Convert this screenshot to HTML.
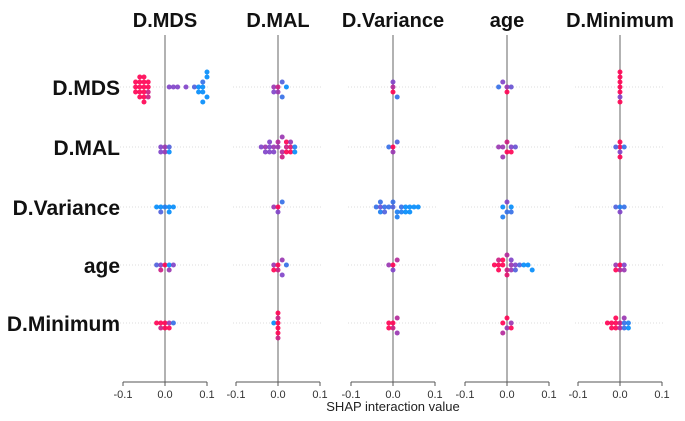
<!DOCTYPE html>
<html><head><meta charset="utf-8"><style>
body{margin:0;background:#fff;width:685px;height:416px;overflow:hidden}
svg{font-family:"Liberation Sans",sans-serif}
</style></head><body>
<svg id="chart" width="685" height="416"></svg>
<script>
const features = ["D.MDS","D.MAL","D.Variance","age","D.Minimum"];
const tickLabels = ["-0.1","0.0","0.1"];
const tickValues = [-0.1,0,0.1];
const shapValues = [
 [[-0.07,-0.07,-0.06,-0.06,-0.06,-0.05,-0.05,-0.05,-0.05,-0.04,-0.04,-0.04,-0.06,-0.05,-0.07,-0.04,-0.05,-0.06,0.01,0.02,0.03,0.05,0.07,0.08,0.08,0.09,0.09,0.09,0.1,0.1,0.09,0.1],
  [-0.01,0,0,0.01,-0.01,0.01,0.02],
  [0,0,0,0.01],
  [-0.02,0,0,0.01,-0.01],
  [0,0,0,0,0,0,0]],
 [[-0.01,0,0,0.01,-0.01,0.01],
  [-0.04,-0.03,-0.02,-0.02,-0.01,0,0.01,0.02,0.02,0.03,0.04,-0.03,-0.02,0,0.01,0.02,0.03,0.04,-0.01,0.01,0.03],
  [-0.01,0,0,0.01],
  [-0.02,-0.01,0,0,0.01,0.02,-0.01,0.01],
  [0,0,0,0,-0.01,0.01]],
 [[-0.02,-0.01,0,0.01,0.02,-0.01,0.01],
  [-0.01,0,0,0.01],
  [-0.04,-0.03,-0.02,-0.01,0,0.01,0.02,0.03,0.04,0.05,0.06,-0.03,-0.02,0,0.02,0.03,-0.03,0.01,0.04],
  [-0.01,0,0,0.01,-0.01,0.01],
  [-0.01,0,0,0.01]],
 [[-0.02,-0.01,0,0.01,0.02,-0.01,0.01],
  [-0.01,0,0,0.01,0.02,-0.01,0.01],
  [-0.01,0,0,0.01],
  [-0.03,-0.02,-0.01,0,0.01,0.02,0.03,0.04,0.05,0.06,-0.02,-0.01,0,0.01,0.02,-0.02,0,0.01],
  [-0.01,0,0,0.01,-0.01,0.01]],
 [[-0.02,-0.01,0,0.01,0.02,0,-0.01,0.01],
  [-0.01,0,0,0,0,0,0],
  [-0.01,0,0,0.01,-0.01,0.01],
  [-0.01,0,0,0.01,-0.01,0.01],
  [-0.03,-0.02,-0.01,0,0.01,0.02,-0.02,-0.01,0,0.01,0.02,-0.01,0.01]]
];
const colorValues = [
 [[1,1,1,1,1,1,1,1,1,1,0.8,1,1,1,1,0.8,1,1,0.5,0.5,0.5,0.5,0.3,0,0,0,0,0.2,0,0,0,0],
  [0.6,0.8,0.6,0.3,0.5,0.2,0],
  [0.7,1,0.5,0.2],
  [0.2,0.6,1,0.4,0.5],
  [1,1,1,0.5,1,1,1]],
 [[0.5,0.6,0.6,0.3,0.5,0],
  [0.5,0.6,0.5,0.5,0.6,0.6,0.7,0.8,1,0.9,0.1,0.5,0.5,0.7,0.8,1,1,0,0.5,0.6,0.6],
  [0.2,1,0.6,0.3],
  [0.6,0.6,1,0.8,0.5,0.4,0.6,1],
  [1,0.5,1,1,0.3,0.2]],
 [[0,0,0.1,0,0,0.3,0],
  [0.6,1,0.5,0.2],
  [0.2,0.4,0.2,0.2,0.3,0.1,0.2,0,0,0,0,0.1,0.3,0.2,0.1,0,0.2,0.1,0],
  [0,0.2,0.5,0,0.1,0.2],
  [0.3,0.1,0.5,0.2]],
 [[0.3,0.5,1,0,0.5,0.8,0.6],
  [0.6,1,0.8,0.6,0.2,1,0.5],
  [0.6,1,0.5,0.7],
  [1,1,1,0.8,0.6,0.5,0.3,0,0,0,1,1,0.9,0.6,0.3,0.8,0.7,0.5],
  [0.6,1,0.7,0.5,1,0.6]],
 [[1,1,1,0.6,0.2,1,0.8,1],
  [0,1,1,0.8,1,1,0.8],
  [1,1,0.8,0.7,1,0.6],
  [1,0.6,1,0.6,0.7,1],
  [1,1,1,0.8,0.2,0.1,1,1,0.7,0.2,0,1,0.6]]
];
const svg = document.getElementById('chart');
const NS = 'http://www.w3.org/2000/svg';
const zeroX = [165,278,393,507,620];
const rowY = [87,147,207,265,323];
const scale = 420;
const axisY = 382;
function xPos(c,v){return zeroX[c]+v*scale;}
function col(t){const b=[0,139,251],r=[255,0,82],m=[126,64,200];
 let a,bb,u; if(t<0.5){a=b;bb=m;u=t*2}else{a=m;bb=r;u=(t-0.5)*2}
 return 'rgb('+a.map((x,i)=>Math.round(x+(bb[i]-x)*u)).join(',')+')';}
function mk(tag,attrs,name){const e=document.createElementNS(NS,tag);for(const k in attrs)e.setAttribute(k,attrs[k]);
 
 
 svg.appendChild(e);return e;}
features.forEach((f,c)=>{
 const t=mk('text',{x:zeroX[c],y:27,'text-anchor':'middle','font-size':20,'font-weight':'bold',fill:'#111'},'column-title');t.textContent=f;
});
features.forEach((f,r)=>{
 const t=mk('text',{x:120,y:rowY[r]+8,'text-anchor':'end','font-size':21,'font-weight':'bold',fill:'#111'},'row-label');t.textContent=f;
});
for(let c=0;c<5;c++){
 for(let r=0;r<5;r++) mk('line',{x1:zeroX[c]-45,x2:zeroX[c]+45,y1:rowY[r],y2:rowY[r],stroke:'#ddd','stroke-dasharray':'1,2','stroke-width':1},'row-gridline');
 mk('line',{x1:zeroX[c],x2:zeroX[c],y1:35,y2:axisY,stroke:'#999','stroke-width':1.5},'zero-line');
 mk('line',{x1:xPos(c,-0.1),x2:xPos(c,0.1),y1:axisY,y2:axisY,stroke:'#555','stroke-width':1},'x-axis');
 tickValues.forEach((v,i)=>{
  mk('line',{x1:xPos(c,v),x2:xPos(c,v),y1:axisY,y2:axisY+4,stroke:'#555'},'x-tick');
  const t=mk('text',{x:xPos(c,v),y:axisY+16,'text-anchor':'middle','font-size':11,fill:'#333'},'x-tick-label');t.textContent=tickLabels[i];
 });
}
const lab=mk('text',{x:393,y:411,'text-anchor':'middle','font-size':13,fill:'#222'},'x-axis-title');lab.textContent='SHAP interaction value';
for(let r=0;r<5;r++)for(let c=0;c<5;c++){
 const vals=shapValues[r][c],cols=colorValues[r][c],bins={};
 vals.forEach((v,i)=>{
  const x=xPos(c,v);const b=Math.round(x/5);const n=bins[b]||0;bins[b]=n+1;
  const off=n===0?0:(n%2?1:-1)*Math.ceil(n/2)*5;
  mk('circle',{cx:x,cy:rowY[r]+off,r:2.5,fill:col(cols[i]),opacity:0.9},'shap-dot');
 });
}
</script>
</body></html>
